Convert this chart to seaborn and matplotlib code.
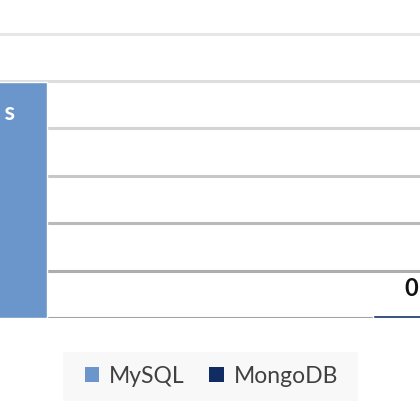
import pandas as pd
import matplotlib
matplotlib.use("Agg")
import matplotlib.pyplot as plt
import seaborn as sns
from matplotlib.patches import Patch, Rectangle

# Chart data (cropped view of a MySQL vs MongoDB comparison)
databases = ["MySQL", "MongoDB"]
times = [4.98, 0.06]
bar_labels = ["5 s", "0 s"]
grid_ticks = [0, 1, 2, 3, 4, 5, 6]

colors = {"MySQL": "#6b96cc", "MongoDB": "#112b63"}
label_colors = ["white", "#111111"]
# gridlines get darker towards the baseline in the source picture
grid_colors = ["#a2a2a2", "#adadad", "#bababa", "#c7c7c7", "#d4d4d4", "#dedede", "#e7e7e7"]

sns.set_theme(style="white")
plt.rcParams["font.family"] = ["Lato", "DejaVu Sans"]

df = pd.DataFrame({"Database": databases, "Time": times})

fig = plt.figure(figsize=(4.2, 4.2), dpi=100)
ax = fig.add_axes([0, 0.2429, 1, 0.7571])

sns.barplot(data=df, x="Database", y="Time", hue="Database", palette=colors,
            width=0.2238, legend=False, ax=ax, zorder=2, saturation=1)

# gridlines
for t, c in zip(grid_ticks, grid_colors):
    ax.axhline(t, color=c, linewidth=2.2, zorder=1)

# data labels (bar centres sit at the edges of the cropped view)
ax.annotate(bar_labels[0], xy=(0, times[0]), xytext=(0, -22), textcoords="offset points",
            ha="center", va="center", color=label_colors[0], fontsize=17,
            fontweight="bold", annotation_clip=False, zorder=3)
ax.annotate(bar_labels[1], xy=(1, times[1]), xytext=(0, 19), textcoords="offset points",
            ha="center", va="center", color=label_colors[1], fontsize=17,
            fontweight="bold", annotation_clip=False, zorder=3)

ax.set_xlim(0, 1)
ax.set_ylim(0, 6.709)
ax.set_xticks([])
ax.set_yticks([])
ax.set_xlabel("")
ax.set_ylabel("")
sns.despine(ax=ax, left=True, bottom=True)

# legend box
fig.patches.append(Rectangle((63 / 420, 19 / 420), 295 / 420, 49 / 420,
                             transform=fig.transFigure, facecolor="#f8f8f8",
                             edgecolor="none", zorder=0))
handles = [Patch(facecolor=colors[d], edgecolor="none", label=d) for d in databases]
fig.legend(handles=handles, loc="center", bbox_to_anchor=(0.503, 0.104), ncol=2,
           frameon=False, fontsize=16.5, handlelength=0.65, handleheight=0.65,
           handletextpad=0.4, columnspacing=1.1, labelcolor="#404040")

fig.savefig("out.png", dpi=100)
